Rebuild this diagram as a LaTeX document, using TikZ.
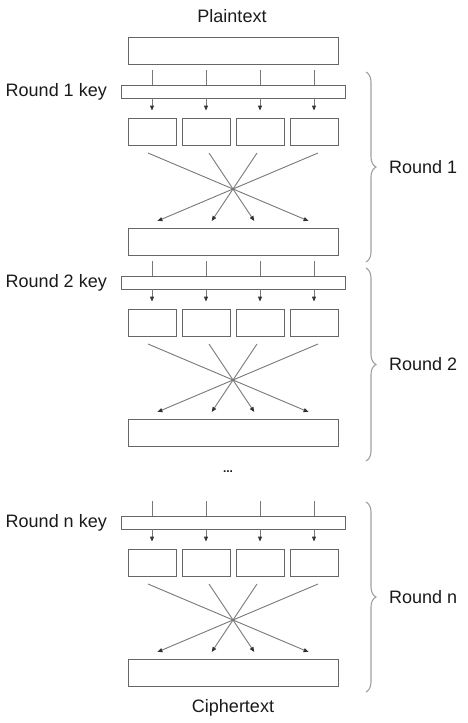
\documentclass[tikz,border=0pt]{standalone}
\usepackage{fontspec}
\setmainfont{Liberation Sans}
\usetikzlibrary{arrows.meta,decorations.pathreplacing,calc}
\definecolor{boxgray}{HTML}{666666}
\definecolor{linegray}{HTML}{787878}
\definecolor{bracegray}{HTML}{A0A0A0}
\definecolor{txt}{HTML}{1A1A1A}
\begin{document}
\begin{tikzpicture}[x=1pt,y=-1pt,
  wide/.style={draw=boxgray,line width=0.9pt,minimum width=210pt,minimum height=27pt,inner sep=0pt},
  keybox/.style={draw=boxgray,line width=0.9pt,minimum width=224pt,minimum height=13pt,inner sep=0pt},
  small/.style={draw=boxgray,line width=0.9pt,minimum width=48pt,minimum height=27pt,inner sep=0pt},
  lbl/.style={text=txt,font=\fontsize{18}{20}\selectfont,inner sep=0pt},
  feed/.style={draw=linegray,line width=0.9pt},
  arr/.style={draw=linegray,line width=0.9pt,-{Triangle[length=5pt,width=4pt,color=black!80]}},
  bracestyle/.style={draw=bracegray,line width=1.1pt,decorate,decoration={brace,amplitude=10pt}}]
\useasboundingbox (0,0) rectangle (468,723);

% plaintext
\node[lbl] (ptlabel) at (232,16) {Plaintext};
\node[wide] (pt) at (233,50.5) {};

\foreach \r/\dy/\name/\btop/\bbot in {1/0/1/72/262, 2/191/2/268/461, n/431/n/502/692}{
  % key feed-in coordinates
  \foreach \i/\x in {1/152,2/206,3/260,4/314}{
    \coordinate (in\r\i) at (\x,70+\dy);
  }
  \node[keybox] (key\r) at (233,91.5+\dy) {};
  \node[lbl,anchor=east] (keylbl\r) at (107,91.5+\dy) {Round \name{} key};
  \foreach \i/\x in {1/152,2/206,3/260,4/314}{
    \node[small] (b\r\i) at (\x,131.5+\dy) {};
    \draw[feed] (in\r\i) -- (in\r\i |- key\r.north);
    \draw[arr] (in\r\i |- key\r.south) -- ([yshift=7pt]b\r\i.north);
  }
  \node[wide] (out\r) at (233,241.5+\dy) {};
  % permutation
  \coordinate (s\r1) at (148,153+\dy);
  \coordinate (s\r2) at (209,153+\dy);
  \coordinate (s\r3) at (257,153+\dy);
  \coordinate (s\r4) at (318,153+\dy);
  \coordinate (e\r1) at (157.4,221+\dy);
  \coordinate (e\r2) at (211.7,221+\dy);
  \coordinate (e\r3) at (254.3,221+\dy);
  \coordinate (e\r4) at (308.6,221+\dy);
  \draw[arr] (s\r1) -- (e\r4);
  \draw[arr] (s\r4) -- (e\r1);
  \draw[arr] (s\r2) -- (e\r3);
  \draw[arr] (s\r3) -- (e\r2);
  % brace
  \coordinate (bt\r) at (366,\btop);
  \coordinate (bb\r) at (366,\bbot);
  \draw[bracestyle] (bt\r) -- (bb\r);
  \node[lbl,anchor=west] (rlbl\r) at (389,{(\btop+\bbot)/2}) {Round \name};
}

\node[lbl,font=\bfseries\fontsize{12}{14}\selectfont] (dots) at (228,472) {...};
\node[lbl] (ctlabel) at (233,708) {Ciphertext};
\end{tikzpicture}
\end{document}
